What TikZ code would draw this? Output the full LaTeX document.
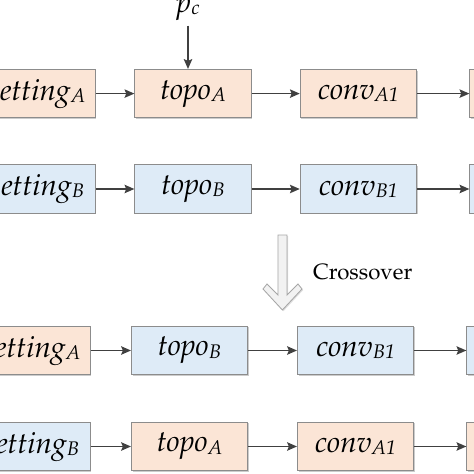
\documentclass[tikz,border=0pt]{standalone}
\usepackage[T1]{fontenc}
\usepackage{mathpazo}
\usepackage{amsmath}
\usetikzlibrary{arrows.meta,shadows}

\definecolor{peach}{HTML}{FBE5D6}
\definecolor{sky}{HTML}{DEEBF7}
\definecolor{edgegray}{HTML}{8C8C8C}
\definecolor{linegray}{HTML}{404040}
\definecolor{hollowfill}{HTML}{F2F2F2}
\definecolor{hollowedge}{HTML}{A6A6A6}

% gene name with a small lowered index
\newcommand{\genename}[2]{\textit{#1}\kern0.3pt\raisebox{-0.07em}{\fontsize{14}{14}\selectfont\itshape #2}}

\tikzset{
  gene/.style={draw=edgegray, line width=0.6pt, rectangle, minimum width=2.91cm, minimum height=1.21cm,
    font=\fontsize{21}{24}\selectfont,
    drop shadow={shadow xshift=0.8pt, shadow yshift=-0.8pt, fill=black!40}},
  geneA/.style={gene, fill=peach},
  geneB/.style={gene, fill=sky},
  link/.style={->, >={Stealth[length=7pt,width=6pt,inset=1.2pt]}, draw=linegray, line width=1pt}
}

\begin{document}
\begin{tikzpicture}
				\useasboundingbox (0,0) rectangle (11.85,11.85);
				\clip (0,0) rectangle (11.85,11.85);
				% parents
				\node[geneA] (sA1)at(0.925, 9.51) {\genename{setting}{A}};
				\node[geneA] (tA1)at(4.825, 9.51) {\genename{topo}{A}};
				\node[geneA] (cA1)at(8.96, 9.51) {\genename{conv}{A1}};
				\node[geneA] (nA1)at(13.2, 9.51) {};
				\node[geneB] (sB1)at(0.925, 7.125) {\genename{setting}{B}};
				\node[geneB] (tB1)at(4.825, 7.125) {\genename{topo}{B}};
				\node[geneB] (cB1)at(8.96, 7.125) {\genename{conv}{B1}};
				\node[geneB] (nB1)at(13.2, 7.125) {};
				\draw[link] (sA1) -- (tA1);
				\draw[link] (tA1) -- (cA1);
				\draw[link] (cA1) -- (nA1);
				\draw[link] (sB1) -- (tB1);
				\draw[link] (tB1) -- (cB1);
				\draw[link] (cB1) -- (nB1);
				% crossover point
				\node[font=\fontsize{21}{24}\selectfont] (pc)at(4.7, 11.62) {\genename{p}{c}};
				\draw[link] (pc) -- (pc |- tA1.north);
				% hollow arrow
				\draw[draw=hollowedge, fill=hollowfill, line width=0.6pt,
				  drop shadow={shadow xshift=0.8pt, shadow yshift=-0.8pt, fill=black!25}]
				  (6.95,5.975) -- (7.175,5.975) -- (7.175,4.475) -- (7.45,4.75) -- (7.55,4.625)
				  -- (7.06,4.1) -- (6.575,4.625) -- (6.675,4.75) -- (6.95,4.475) -- cycle;
				\node[font=\fontsize{15.8}{18}\selectfont] (cross)at(9.07, 5.05) {Crossover};
				% offspring
				\node[geneA] (sA2)at(0.8, 3.0875) {\genename{setting}{A}};
				\node[geneB] (tB2)at(4.74, 3.0875) {\genename{topo}{B}};
				\node[geneB] (cB2)at(8.89, 3.0875) {\genename{conv}{B1}};
				\node[geneB] (nB2)at(13.125, 3.0875) {};
				\node[geneB] (sB2)at(0.8, 0.6875) {\genename{setting}{B}};
				\node[geneA] (tA2)at(4.74, 0.6875) {\genename{topo}{A}};
				\node[geneA] (cA2)at(8.89, 0.6875) {\genename{conv}{A1}};
				\node[geneA] (nA2)at(13.125, 0.6875) {};
				\draw[link] (sA2) -- (tB2);
				\draw[link] (tB2) -- (cB2);
				\draw[link] (cB2) -- (nB2);
				\draw[link] (sB2) -- (tA2);
				\draw[link] (tA2) -- (cA2);
				\draw[link] (cA2) -- (nA2);
			\end{tikzpicture}
\end{document}
